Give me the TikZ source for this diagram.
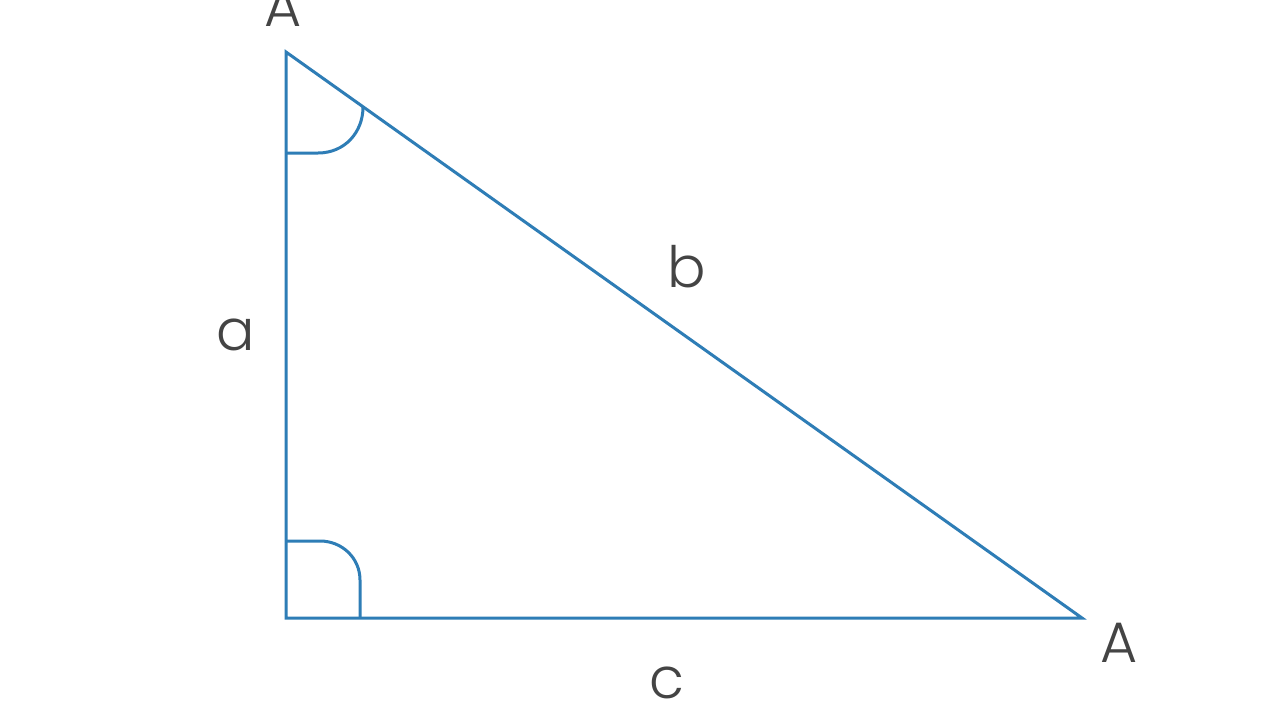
\documentclass[tikz,border=0pt]{standalone}
\usepackage{fontspec}
\setmainfont{Poppins}[UprightFont=* Light]
\definecolor{lineblue}{RGB}{46,125,182}
\definecolor{txtgray}{RGB}{68,68,68}
\tikzset{
  side/.style={draw=lineblue, line width=3pt, line join=miter},
  anglemark/.style={draw=lineblue, line width=3pt},
  lbl/.style={text=txtgray, font=\fontsize{57}{57}\selectfont, anchor=base, inner sep=0pt}
}
\begin{document}
\begin{tikzpicture}[x=1pt,y=-1pt]
\useasboundingbox (0,0) rectangle (1280,720);
\fill[white] (0,0) rectangle (1280,720);
\coordinate (T) at (286,52);
\coordinate (R) at (286,618);
\coordinate (B) at (1082,618);
\draw[side] (T) -- (R) -- (B) -- cycle;
\coordinate (m1) at (286,153);
\coordinate (m2) at (363,107);
\draw[anglemark] (m1) -- (318,153) .. controls (345,153) and (363,132) .. (m2);
\coordinate (r1) at (286,541);
\coordinate (r2) at (360,618);
\draw[anglemark] (r1) -- (320,541) .. controls (342,541) and (360,558) .. (360,580) -- (r2);
\node[lbl] (lA1) at (283,27) {A};
\node[lbl] (lA2) at (1119,662) {A};
\node[lbl] (la) at (236,350) {a};
\node[lbl] (lb) at (687,287) {b};
\node[lbl] (lc) at (667,698) {c};
\end{tikzpicture}
\end{document}
